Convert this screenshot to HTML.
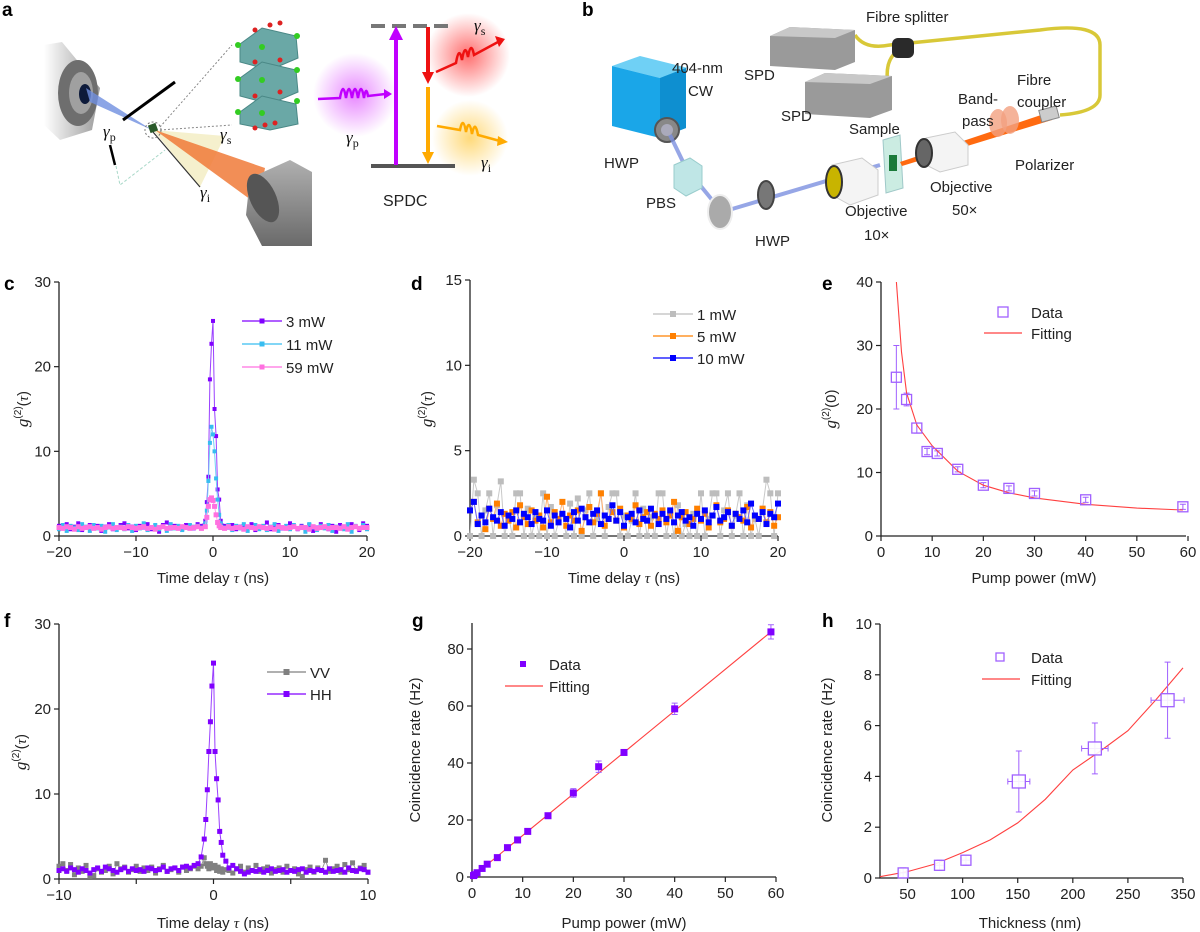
<!DOCTYPE html>
<html><head><meta charset="utf-8"><style>
html,body{margin:0;padding:0;background:#fff;}
svg{display:block;font-family:"Liberation Sans",sans-serif;}
.tk{font-size:15px;fill:#222;}
.tt{font-size:15px;fill:#222;}
.pl{font-size:19px;font-weight:bold;fill:#000;}
.lb{font-size:15px;fill:#222;}
</style></head><body>
<svg id="fig" width="1200" height="932" viewBox="0 0 1200 932" xmlns="http://www.w3.org/2000/svg">
<defs>
<radialGradient id="gP"><stop offset="0" stop-color="#e060ff" stop-opacity="0.75"/><stop offset="1" stop-color="#e060ff" stop-opacity="0"/></radialGradient>
<radialGradient id="gR"><stop offset="0" stop-color="#ff3030" stop-opacity="0.7"/><stop offset="1" stop-color="#ff3030" stop-opacity="0"/></radialGradient>
<radialGradient id="gO"><stop offset="0" stop-color="#ffc020" stop-opacity="0.6"/><stop offset="1" stop-color="#ffc020" stop-opacity="0"/></radialGradient>
<linearGradient id="gGray" x1="0" y1="0" x2="0" y2="1"><stop offset="0" stop-color="#b0b0b0"/><stop offset="1" stop-color="#6a6a6a"/></linearGradient>
<linearGradient id="gFade" x1="0" y1="0" x2="1" y2="0"><stop offset="0" stop-color="#fff"/><stop offset="1" stop-color="#9a9a9a"/></linearGradient>
</defs>

<!-- Panel a -->
<g>
<text class="pl" x="2" y="16">a</text>
<path d="M44,45 L62,42 L100,88 L92,130 L60,140 L44,125 Z" fill="url(#gFade)"/>
<ellipse cx="78" cy="93" rx="20" ry="33" fill="#6e6e6e"/>
<ellipse cx="81" cy="93" rx="12" ry="21" fill="#a0a0a0"/>
<ellipse cx="85" cy="94" rx="6" ry="10" fill="#0d1a3a"/>
<polygon points="86,88 90,102 152,130" fill="#6f8fe0" opacity="0.8"/>
<line x1="123" y1="120" x2="175" y2="82" stroke="#000" stroke-width="3"/>
<line x1="110" y1="145" x2="115" y2="165" stroke="#000" stroke-width="2.5"/>
<polyline points="116,166 120,185 165,150" fill="none" stroke="#a8d8c8" stroke-dasharray="3,2"/>
<polygon points="153,130 225,136 200,187" fill="#f3edc4" opacity="0.85"/>
<polygon points="155,130 265,168 258,205" fill="#f07a38" opacity="0.85"/>
<line x1="153" y1="132" x2="200" y2="187" stroke="#333" stroke-width="1.2"/>
<rect x="149" y="124" width="8" height="8" fill="#2a5a2a" transform="rotate(-20 153 128)"/>
<circle cx="153" cy="130" r="8" fill="none" stroke="#777" stroke-dasharray="2,2"/>
<path d="M250,178 L290,160 L312,172 L312,246 L262,246 L246,215 Z" fill="url(#gGray)"/>
<ellipse cx="263" cy="198" rx="13" ry="26" fill="#555" transform="rotate(-25 263 198)"/>
<line x1="160" y1="127" x2="232" y2="45" stroke="#888" stroke-dasharray="2,2"/>
<line x1="160" y1="130" x2="232" y2="125" stroke="#888" stroke-dasharray="2,2"/>
<g>
<polygon points="240,44 262,28 296,36 298,58 270,70 240,62" fill="#6aa8a6" stroke="#4a8886"/>
<polygon points="240,78 262,62 296,70 298,92 270,104 240,96" fill="#6aa8a6" stroke="#4a8886"/>
<polygon points="240,112 262,96 296,104 298,124 270,130 240,124" fill="#6aa8a6" stroke="#4a8886"/>
<g fill="#33cc22"><circle cx="238" cy="45" r="3"/><circle cx="262" cy="47" r="3"/><circle cx="297" cy="36" r="3"/><circle cx="238" cy="79" r="3"/><circle cx="262" cy="80" r="3"/><circle cx="297" cy="70" r="3"/><circle cx="238" cy="112" r="3"/><circle cx="262" cy="113" r="3"/><circle cx="297" cy="101" r="3"/></g>
<g fill="#dd2222"><circle cx="255" cy="30" r="2.5"/><circle cx="270" cy="25" r="2.5"/><circle cx="280" cy="23" r="2.5"/><circle cx="255" cy="62" r="2.5"/><circle cx="280" cy="60" r="2.5"/><circle cx="255" cy="96" r="2.5"/><circle cx="280" cy="92" r="2.5"/><circle cx="255" cy="128" r="2.5"/><circle cx="265" cy="125" r="2.5"/><circle cx="275" cy="123" r="2.5"/></g>
</g>
<text x="103" y="137" font-size="17" font-style="italic" fill="#111" font-family="Liberation Serif,serif">γ<tspan font-size="12" font-style="normal" dy="4">p</tspan></text>
<text x="220" y="140" font-size="17" font-style="italic" fill="#111" font-family="Liberation Serif,serif">γ<tspan font-size="12" font-style="normal" dy="4">s</tspan></text>
<text x="200" y="198" font-size="17" font-style="italic" fill="#111" font-family="Liberation Serif,serif">γ<tspan font-size="12" font-style="normal" dy="4">i</tspan></text>
<circle cx="355" cy="95" r="42" fill="url(#gP)"/>
<circle cx="468" cy="55" r="42" fill="url(#gR)"/>
<circle cx="470" cy="138" r="38" fill="url(#gO)"/>
<path d="M318,99 L340,98 Q343,80 346,98 Q349,80 352,98 Q355,80 358,98 Q361,80 364,98 Q366,85 368,96 L385,94" fill="none" stroke="#c000ff" stroke-width="2.5"/>
<polygon points="384,89 392,94 384,99" fill="#c000ff"/>
<text x="346" y="143" font-size="17" font-style="italic" fill="#111" font-family="Liberation Serif,serif">γ<tspan font-size="12" font-style="normal" dy="4">p</tspan></text>
<line x1="371" y1="26" x2="452" y2="26" stroke="#777" stroke-width="4" stroke-dasharray="14,7"/>
<line x1="371" y1="166" x2="455" y2="166" stroke="#555" stroke-width="4"/>
<line x1="396" y1="165" x2="396" y2="38" stroke="#c000ff" stroke-width="4"/>
<polygon points="389,40 396,26 403,40" fill="#c000ff"/>
<line x1="428" y1="27" x2="428" y2="72" stroke="#ee1111" stroke-width="4"/>
<polygon points="422,72 428,84 434,72" fill="#ee1111"/>
<line x1="428" y1="87" x2="428" y2="153" stroke="#ffaa00" stroke-width="4"/>
<polygon points="422,152 428,164 434,152" fill="#ffaa00"/>
<path d="M436,72 L456,63 Q459,45 462,60 Q465,42 468,57 Q471,40 474,55 L498,42" fill="none" stroke="#ee1111" stroke-width="2.5"/>
<polygon points="495,36 505,39 499,47" fill="#ee1111"/>
<path d="M437,126 L460,130 Q463,115 466,132 Q469,117 472,134 Q475,119 478,135 L500,141" fill="none" stroke="#ffaa00" stroke-width="2.5"/>
<polygon points="498,136 508,142 497,146" fill="#ffaa00"/>
<text x="474" y="31" font-size="17" font-style="italic" fill="#111" font-family="Liberation Serif,serif">γ<tspan font-size="12" font-style="normal" dy="4">s</tspan></text>
<text x="481" y="168" font-size="17" font-style="italic" fill="#111" font-family="Liberation Serif,serif">γ<tspan font-size="12" font-style="normal" dy="4">i</tspan></text>
<text x="383" y="206" font-size="16" fill="#222">SPDC</text>
</g>

<!-- Panel b -->
<g>
<text class="pl" x="582" y="16">b</text>
<polygon points="612,66 640,56 688,68 660,78" fill="#6fd0f5"/>
<rect x="612" y="66" width="48" height="0" fill="none"/>
<polygon points="612,66 660,78 686,68 686,128 660,138 612,126" fill="#1aa6e8"/>
<polygon points="660,78 686,68 686,128 660,138" fill="#0e8fd0"/>
<circle cx="667" cy="130" r="12" fill="#888" stroke="#555" stroke-width="2"/>
<circle cx="667" cy="130" r="6" fill="#aab"/>
<polyline points="670,135 686,168 722,212 880,165" fill="none" stroke="#7c90e0" stroke-width="4" opacity="0.8"/>
<polygon points="674,165 690,158 702,166 702,188 686,196 674,188" fill="#bfe6e6" stroke="#9cc"/>
<ellipse cx="720" cy="212" rx="12" ry="17" fill="#aaa" stroke="#eee" stroke-width="2"/>
<ellipse cx="766" cy="195" rx="8" ry="14" fill="#777" stroke="#444" stroke-width="2"/>
<polygon points="832,165 862,158 878,170 878,195 850,205 832,195" fill="#f4f4f4" stroke="#ccc"/>
<ellipse cx="834" cy="182" rx="8" ry="16" fill="#c8b400" stroke="#333" stroke-width="2"/>
<polygon points="883,140 900,135 903,188 886,193" fill="#bfe8dc" opacity="0.8" stroke="#8bb"/>
<rect x="889" y="155" width="8" height="16" fill="#1a7a3a"/>
<polygon points="900,162 1050,112 1052,120 902,166" fill="#ff6a10"/>
<polygon points="926,138 955,132 968,145 968,165 940,172 926,165" fill="#f4f4f4" stroke="#ccc"/>
<ellipse cx="924" cy="153" rx="8" ry="14" fill="#666" stroke="#333" stroke-width="2"/>
<ellipse cx="998" cy="123" rx="9" ry="14" fill="#f3a080" opacity="0.8"/>
<ellipse cx="1010" cy="120" rx="9" ry="14" fill="#f3a080" opacity="0.8"/>
<rect x="1040" y="108" width="18" height="12" fill="#ccc" stroke="#888" transform="rotate(-15 1049 114)"/>
<path d="M855,35 Q865,50 890,45 L1040,30 Q1100,22 1100,45 L1100,95 Q1100,112 1060,115" fill="none" stroke="#d8c838" stroke-width="3.5"/>
<path d="M890,95 Q880,55 905,48" fill="none" stroke="#d8c838" stroke-width="3.5"/>
<polygon points="770,36 790,27 855,30 855,62 835,70 770,66" fill="#9a9a9a"/>
<polygon points="770,36 790,27 855,30 835,38" fill="#c8c8c8"/>
<polygon points="805,82 825,73 892,76 892,110 870,118 805,114" fill="#9a9a9a"/>
<polygon points="805,82 825,73 892,76 870,84" fill="#c8c8c8"/>
<rect x="892" y="38" width="22" height="20" rx="6" fill="#2a2a2a"/>
<g class="lb">
<text x="866" y="22">Fibre splitter</text>
<text x="672" y="73">404-nm</text>
<text x="688" y="96">CW</text>
<text x="744" y="80">SPD</text>
<text x="781" y="121">SPD</text>
<text x="604" y="168">HWP</text>
<text x="646" y="208">PBS</text>
<text x="755" y="246">HWP</text>
<text x="849" y="134">Sample</text>
<text x="845" y="216">Objective</text>
<text x="864" y="240">10×</text>
<text x="930" y="192">Objective</text>
<text x="952" y="215">50×</text>
<text x="958" y="104">Band-</text>
<text x="962" y="126">pass</text>
<text x="1017" y="85">Fibre</text>
<text x="1017" y="107">coupler</text>
<text x="1015" y="170">Polarizer</text>
</g>
</g>

<g id="charts"></g>
</svg>

<script>
// ---------- Panel c data ----------
const cPeakT = [-1.5,-1,-0.8,-0.6,-0.4,-0.2,0,0.2,0.4,0.6,0.8,1,1.5];
const c3Peak = [1.2,1.8,4,7,18.5,22.7,25.4,15,11.8,5.5,4.3,1.8,1.2];
const c11Peak = [1,1.5,3,6.5,11,12.9,12,10,6.8,4.3,2.5,1.5,1];
const c59Peak = [0.9,1.1,2.2,3.5,4.3,4.5,4.2,3.5,2.5,1.6,1.2,1,0.9];
const c3Left = [1.2,0.9,1.4,0.8,1.1,1.5,0.7,1.0,1.3,0.9,1.2,0.6,1.1,1.4,0.8,1.0,1.3,1.5,0.9,1.1,0.7,1.2,1.0,1.4,0.8,1.1,0.5,1.3,1.6,0.9,1.2,1.0,0.8,1.3,1.1,0.9,1.4];
const c3Right = [1.0,1.3,0.8,1.1,1.2,0.9,1.4,0.7,1.1,1.0,1.6,0.8,1.2,1.3,0.9,1.0,1.5,1.1,0.8,1.2,0.9,1.3,0.6,1.0,1.4,1.1,0.8,1.2,0.5,1.3,1.0,0.9,1.4,1.1,0.7,1.5,1.2];
const c11Left = [0.8,1.3,0.6,1.2,1.0,0.7,1.4,1.1,0.6,1.3,0.9,1.2,0.5,1.0,1.4,0.7,1.1,0.8,1.3,0.6,1.2,0.9,1.5,0.7,1.0,1.3,0.8,1.1,0.6,1.4,0.9,1.2,0.7,1.0,1.3,1.1,1.2];
const c11Right = [1.3,0.7,1.2,0.9,1.4,0.6,1.0,1.3,0.8,1.2,0.7,1.1,1.4,0.6,1.0,1.2,0.8,1.3,0.9,1.1,0.5,1.4,1.0,0.7,1.2,0.9,1.3,0.6,1.1,1.0,0.8,1.4,0.5,1.2,0.9,1.3,0.8];
const c59Left = [1.0,0.9,1.1,1.0,0.8,1.1,0.9,1.0,1.1,0.9,1.0,0.8,1.0,1.1,0.9,1.0,1.0,0.9,1.1,1.0,0.9,1.0,1.1,0.9,1.0,0.8,1.0,1.1,0.9,1.0,1.0,0.9,1.1,1.0,0.9,1.0,1.1];
const c59Right = [1.1,0.9,1.0,1.0,0.8,1.1,1.0,0.9,1.1,1.0,0.9,1.0,0.8,1.1,1.0,0.9,1.0,1.1,0.9,1.0,1.0,0.8,1.1,0.9,1.0,1.1,0.9,1.0,1.0,0.9,1.1,0.8,1.0,1.1,0.9,1.0,1.0];
const cXTicks = [-20,-10,0,10,20];
const cYTicks = [0,10,20,30];
const cLegend = ['3 mW','11 mW','59 mW'];

// ---------- Panel d data ----------
const d1 = [0,3.3,2.5,0,1.5,2.5,0,1.8,3.2,0,1.2,0,2.5,2.5,0,1.6,0,1.1,0,2.5,0,1.7,0,0.8,1.3,0,1.9,0,2.2,0,1.5,2.5,0,1.0,2.5,0,1.7,2.5,2.5,0,1.2,0,0.9,2.5,0,1.6,0,1.1,0,2.5,2.5,0,1.4,0,1.8,0,0.7,0,1.3,0,2.5,0,1.0,2.5,2.5,0,1.5,2.5,0,1.2,2.5,0,1.8,0,1.0,0,1.6,3.3,2.5,0,2.5];
const d5 = [1.5,2.0,0.8,1.2,0.4,1.6,1.0,1.9,0.6,1.3,0.9,1.4,0.5,1.8,1.1,0.7,1.5,0.9,1.2,0.5,2.3,0.8,1.4,1.0,2.0,0.6,1.2,0.9,1.5,0.3,1.1,1.7,0.8,1.3,2.5,0.6,1.0,1.4,0.9,1.6,0.5,1.2,1.0,1.8,0.7,1.1,1.4,0.6,1.3,1.0,1.5,0.8,1.2,2.0,0.3,1.1,1.4,0.7,1.0,1.6,0.9,1.3,0.5,1.2,1.8,0.8,1.0,1.5,0.6,1.3,1.1,0.9,1.7,0.5,1.2,1.0,1.6,0.8,1.4,0.6,1.1];
const d10 = [1.5,2.0,0.7,1.2,0.8,1.6,1.1,0.9,1.4,0.6,1.2,1.0,1.5,0.8,1.3,1.1,0.7,1.4,1.0,0.9,1.5,0.6,1.2,0.8,1.3,1.0,0.5,1.4,0.9,1.6,1.1,0.8,1.3,1.5,0.7,1.2,1.0,1.8,0.9,1.4,0.6,1.1,1.3,0.8,1.5,1.0,0.9,1.6,1.2,0.7,1.3,1.0,1.5,0.8,1.2,1.4,0.9,1.1,0.6,1.3,1.0,1.5,0.8,1.2,1.7,0.9,1.1,1.4,0.6,1.3,1.0,1.5,0.8,1.9,1.2,1.0,1.4,0.7,1.3,1.1,1.9];
const dYTicks = [0,5,10,15];
const dLegend = ['1 mW','5 mW','10 mW'];

// ---------- Panel e data ----------
const ePower = [3,5,7,9,11,15,20,25,30,40,59];
const eG2 = [25,21.5,17,13.3,13,10.5,8,7.5,6.7,5.7,4.6];
const eErr = [5,1,0.8,0.5,0.4,0.4,0.4,0.4,0.4,0.4,0.4];
const eFitX = [3,4,5,7,10,15,20,25,30,40,50,59];
const eFitY = [40,29,22.5,17.5,14.2,10.2,8,6.8,6,5,4.4,4.1];
const eXTicks = [0,10,20,30,40,50,60];
const eYTicks = [0,10,20,30,40];

// ---------- Panel f data ----------
const fPeakT = [-1,-0.8,-0.6,-0.5,-0.4,-0.3,-0.2,-0.1,0,0.1,0.2,0.3,0.4,0.5,0.6,0.8,1];
const fHHPeak = [1.8,2.6,4.7,7,10.5,15,18.5,22.7,25.4,15,11.8,9.3,5.6,4.3,2.8,2.1,1.3];
const fVVPeak = [1.2,1.5,2.5,1.8,1.5,1.2,1.8,1.3,1.5,1.6,1.0,1.4,0.9,1.2,0.8,1.1,1.0];
const fHHLeft = [1.0,1.2,0.9,1.3,1.1,0.8,1.2,1.0,0.7,1.1,1.3,0.9,1.4,1.2,1.0,0.8,1.1,1.3,0.9,1.2,1.0,1.1,0.9,1.3,1.2,1.0,1.1,1.4,0.9,1.2,1.3,1.0,1.4,1.5,1.3,1.6];
const fHHRight = [1.6,1.2,0.9,0.6,0.8,1.0,0.9,1.1,0.8,1.0,1.2,0.9,1.0,1.1,0.8,1.0,0.9,1.1,1.2,0.8,1.0,0.9,1.1,1.0,0.8,1.2,0.9,1.0,1.1,0.8,1.3,1.0,0.9,1.2,1.1,0.8];
const fVVLeft = [1.5,1.8,1.0,1.7,0.5,1.3,0.9,1.6,0.3,0.4,1.2,0.8,1.0,1.5,0.6,1.8,1.2,1.4,0.8,1.1,1.5,0.9,1.3,1.0,1.4,0.7,1.2,1.6,0.9,1.1,1.3,0.8,1.4,1.0,1.2,1.5];
const fVVRight = [0.7,1.2,1.5,0.8,1.3,1.0,1.6,0.9,1.2,1.4,0.7,1.1,1.3,0.8,1.5,1.0,1.2,0.6,0.3,1.1,1.4,0.8,1.3,1.0,2.2,0.9,1.2,1.5,0.8,1.7,1.1,1.9,1.0,1.3,1.6,0.8];
const fXTicks = [-10,-5,0,5,10];
const fXLabels = ['−10','','0','','10'];
const fYTicks = [0,10,20,30];
const fLegend = ['VV','HH'];

// ---------- Panel g data ----------
const gPower = [0.3,0.5,1,2,3,5,7,9,11,15,20,25,30,40,59];
const gRate = [0.5,0.8,1.5,3,4.5,6.8,10.3,13,16,21.5,29.5,38.7,43.7,59,86];
const gErr = [0.3,0.3,0.3,0.4,0.4,0.4,0.5,0.5,0.5,0.6,1.5,2,1,2,2.5];
const gFitX = [0,59];
const gFitY = [0,86];
const gXTicks = [0,10,20,30,40,50,60];
const gYTicks = [0,20,40,60,80];

// ---------- Panel h data ----------
const hThick = [46,79,103,151,220,286];
const hRate = [0.2,0.5,0.7,3.8,5.1,7.0];
const hYErr = [0.2,0.2,0.2,1.2,1.0,1.5];
const hXErr = [3,4,4,10,12,15];
const hFitX = [25,50,75,100,125,150,175,200,225,250,275,300];
const hFitY = [0.05,0.25,0.55,1.0,1.5,2.17,3.1,4.25,5.0,5.8,7.0,8.27];
const hXTicks = [50,100,150,200,250,300];
const hXLabels = ['50','100','150','200','250','350'];
const hYTicks = [0,2,4,6,8,10];

const NS = 'http://www.w3.org/2000/svg';
const root = document.getElementById('charts');
function mk(tag, attrs, parent) {
  const e = document.createElementNS(NS, tag);
  for (const k in attrs) e.setAttribute(k, attrs[k]);
  (parent || root).appendChild(e);
  return e;
}
function lin(d0, d1, r0, r1) { return v => r0 + (v - d0) * (r1 - r0) / (d1 - d0); }
function fmt(v) { return v < 0 ? '−' + Math.abs(v) : String(v); }
function grid(n, a, b) { const o = []; for (let i = 0; i < n; i++) o.push(a + (b - a) * i / (n - 1)); return o; }

function axes(g, sx, sy, x0, x1, y0, y1, xt, xl, yt, ylab) {
  const ax = mk('path', {d: `M${x0},${y1} L${x0},${y0} L${x1},${y0}`, fill: 'none', stroke: '#222', 'stroke-width': 1.3}, g);
  
  
  xt.forEach((v, i) => {
    const x = sx(v);
    const t = mk('line', {x1: x, x2: x, y1: y0, y2: y0 + 5, stroke: '#222', 'stroke-width': 1.2}, g);
    
    
    const lbl = xl ? xl[i] : fmt(v);
    if (lbl !== '') {
      const tx = mk('text', {x: x, y: y0 + 21, 'text-anchor': 'middle', class: 'tk'}, g);
      tx.textContent = lbl;
      
      
    }
  });
  yt.forEach(v => {
    const y = sy(v);
    const t = mk('line', {x1: x0 - 5, x2: x0, y1: y, y2: y, stroke: '#222', 'stroke-width': 1.2}, g);
    
    
    const tx = mk('text', {x: x0 - 8, y: y + 5, 'text-anchor': 'end', class: 'tk'}, g);
    tx.textContent = fmt(v);
    
    
  });
}
function xTitle(g, x, y, html) {
  const t = mk('text', {x: x, y: y, 'text-anchor': 'middle', class: 'tt'}, g);
  t.innerHTML = html;
  
  
}
function yTitle(g, x, y, html) {
  const t = mk('text', {x: x, y: y, 'text-anchor': 'middle', class: 'tt', transform: `rotate(-90 ${x} ${y})`}, g);
  t.innerHTML = html;
  
  
}
function panelLabel(x, y, s) {
  const t = mk('text', {x: x, y: y, class: 'pl'});
  t.textContent = s;
  
  
}
function series(g, sx, sy, ts, vs, color, lineColor, ms, name) {
  const pts = ts.map((t, i) => sx(t).toFixed(1) + ',' + sy(vs[i]).toFixed(1)).join(' ');
  const pl = mk('polyline', {points: pts, fill: 'none', stroke: lineColor, 'stroke-width': 1}, g);
  
  
  ts.forEach((t, i) => {
    const r = mk('rect', {x: sx(t) - ms / 2, y: sy(vs[i]) - ms / 2, width: ms, height: ms, fill: color}, g);
    
    
  });
}
function legendLine(g, x0, x1, y, color, ms, label, tx) {
  const l = mk('line', {x1: x0, x2: x1, y1: y, y2: y, stroke: color, 'stroke-width': 1.2}, g);
  
  
  if (ms) {
    const r = mk('rect', {x: (x0 + x1) / 2 - ms / 2, y: y - ms / 2, width: ms, height: ms, fill: color}, g);
    
    
  }
  const t = mk('text', {x: tx, y: y + 6, class: 'lb', 'font-size': 16}, g);
  t.textContent = label;
  
  
}
function joinT(left, peakT, right, a, b) {
  return grid(left.length, a, -2).concat(peakT, grid(right.length, 2, b));
}
function fitLine(g, sx, sy, xs, ys, name) {
  const pts = xs.map((x, i) => sx(x).toFixed(1) + ',' + sy(ys[i]).toFixed(1)).join(' ');
  const p = mk('polyline', {points: pts, fill: 'none', stroke: '#ff4040', 'stroke-width': 1.1}, g);
  
  
}
function errBars(g, sx, sy, xs, ys, yerr, xerr, color) {
  xs.forEach((x, i) => {
    const px = sx(x), pt = sy(ys[i] + yerr[i]), pb = sy(ys[i] - yerr[i]);
    const e = mk('path', {d: `M${px},${pt} L${px},${pb} M${px - 3},${pt} L${px + 3},${pt} M${px - 3},${pb} L${px + 3},${pb}`, stroke: color, 'stroke-width': 1, fill: 'none'}, g);
    
    
    if (xerr) {
      const l = sx(x - xerr[i]), r = sx(x + xerr[i]), py = sy(ys[i]);
      const h = mk('path', {d: `M${l},${py} L${r},${py} M${l},${py - 3} L${l},${py + 3} M${r},${py - 3} L${r},${py + 3}`, stroke: color, 'stroke-width': 1, fill: 'none'}, g);
      
      
    }
  });
}
const G2 = '<tspan font-style="italic" font-family="Liberation Serif,serif" font-size="17">g</tspan><tspan font-size="10" dy="-7">(2)</tspan><tspan dy="7">(</tspan><tspan font-style="italic" font-family="Liberation Serif,serif">τ</tspan>)';
const TD = 'Time delay <tspan font-style="italic" font-family="Liberation Serif,serif">τ</tspan> (ns)';

// Panel c
(function () {
  const g = mk('g', {});
  
  
  panelLabel(4, 290, 'c');
  const sx = lin(-20, 20, 59, 367), sy = lin(0, 30, 536, 282);
  axes(g, sx, sy, 59, 367, 536, 282, cXTicks, null, cYTicks);
  const t3 = joinT(c3Left, cPeakT, c3Right, -20, 20);
  const t11 = joinT(c11Left, cPeakT, c11Right, -20, 20);
  const t59 = joinT(c59Left, cPeakT, c59Right, -20, 20);
  series(g, sx, sy, t3, c3Left.concat(c3Peak, c3Right), '#8000ff', '#9a40ff', 4, 'series-3mw');
  series(g, sx, sy, t11, c11Left.concat(c11Peak, c11Right), '#38bdf0', '#70d0f5', 4, 'series-11mw');
  series(g, sx, sy, t59, c59Left.concat(c59Peak, c59Right), '#ff70e0', '#ffa0ec', 5, 'series-59mw');
  legendLine(g, 242, 282, 321, '#8000ff', 5, cLegend[0], 286);
  legendLine(g, 242, 282, 344, '#38bdf0', 5, cLegend[1], 286);
  legendLine(g, 242, 282, 367, '#ff70e0', 5, cLegend[2], 286);
  xTitle(g, 213, 583, TD);
  yTitle(g, 28, 409, G2);
})();

// Panel d
(function () {
  const g = mk('g', {});
  
  
  panelLabel(411, 290, 'd');
  const sx = lin(-20, 20, 470, 778), sy = lin(0, 15, 536, 280);
  axes(g, sx, sy, 470, 778, 536, 280, cXTicks, null, dYTicks);
  series(g, sx, sy, grid(d1.length, -20, 20), d1, '#bdbdbd', '#c8c8c8', 6, 'series-1mw');
  series(g, sx, sy, grid(d5.length, -20, 20), d5, '#ff8000', '#ffb070', 6, 'series-5mw');
  series(g, sx, sy, grid(d10.length, -20, 20), d10, '#0000ff', '#6666ff', 6, 'series-10mw');
  legendLine(g, 653, 693, 314, '#bdbdbd', 6, dLegend[0], 697);
  legendLine(g, 653, 693, 336, '#ff8000', 6, dLegend[1], 697);
  legendLine(g, 653, 693, 358, '#0000ff', 6, dLegend[2], 697);
  xTitle(g, 624, 583, TD);
  yTitle(g, 432, 409, G2);
})();

// Panel e
(function () {
  const g = mk('g', {});
  
  
  panelLabel(822, 290, 'e');
  const sx = lin(0, 60, 881, 1188), sy = lin(0, 40, 536, 282);
  axes(g, sx, sy, 881, 1186, 536, 282, eXTicks, null, eYTicks);
  errBars(g, sx, sy, ePower, eG2, eErr, null, '#a060ff');
  fitLine(g, sx, sy, eFitX, eFitY, 'fit-curve');
  ePower.forEach((p, i) => {
    const r = mk('rect', {x: sx(p) - 5, y: sy(eG2[i]) - 5, width: 10, height: 10, fill: 'none', stroke: '#a060ff', 'stroke-width': 1.3}, g);
    
    
  });
  const lm = mk('rect', {x: 998, y: 307, width: 10, height: 10, fill: 'none', stroke: '#a060ff', 'stroke-width': 1.3}, g);
  
  
  const t1 = mk('text', {x: 1031, y: 318, class: 'lb', 'font-size': 16}, g);
  t1.textContent = 'Data';
  
  
  legendLine(g, 984, 1022, 333, '#ff4040', 0, 'Fitting', 1031);
  xTitle(g, 1034, 583, 'Pump power (mW)');
  yTitle(g, 836, 409, G2.replace('<tspan font-style="italic" font-family="Liberation Serif,serif">τ</tspan>', '0'));
})();

// Panel f
(function () {
  const g = mk('g', {});
  
  
  panelLabel(4, 627, 'f');
  const sx = lin(-10, 10, 59, 368), sy = lin(0, 30, 879, 624);
  axes(g, sx, sy, 59, 368, 879, 624, fXTicks, fXLabels, fYTicks);
  const tv = grid(fVVLeft.length, -10, -1.25).concat(fPeakT, grid(fVVRight.length, 1.25, 10));
  const th = grid(fHHLeft.length, -10, -1.25).concat(fPeakT, grid(fHHRight.length, 1.25, 10));
  series(g, sx, sy, tv, fVVLeft.concat(fVVPeak, fVVRight), '#808080', '#999', 5, 'series-vv');
  series(g, sx, sy, th, fHHLeft.concat(fHHPeak, fHHRight), '#8000ff', '#9a40ff', 5, 'series-hh');
  legendLine(g, 267, 306, 672, '#808080', 6, fLegend[0], 310);
  legendLine(g, 267, 306, 694, '#8000ff', 6, fLegend[1], 310);
  xTitle(g, 213, 928, TD);
  yTitle(g, 26, 752, G2);
})();

// Panel g
(function () {
  const g = mk('g', {});
  
  
  panelLabel(412, 627, 'g');
  const sx = lin(0, 60, 472, 776), sy = lin(0, 80, 877, 649);
  axes(g, sx, sy, 472, 776, 877, 623, gXTicks, null, gYTicks);
  fitLine(g, sx, sy, gFitX, gFitY, 'fit-line');
  errBars(g, sx, sy, gPower, gRate, gErr, null, '#a060ff');
  gPower.forEach((p, i) => {
    const r = mk('rect', {x: sx(p) - 3.5, y: sy(gRate[i]) - 3.5, width: 7, height: 7, fill: '#8000ff'}, g);
    
    
  });
  const lm = mk('rect', {x: 520, y: 661, width: 6, height: 6, fill: '#8000ff'}, g);
  
  
  const t1 = mk('text', {x: 549, y: 670, class: 'lb', 'font-size': 16}, g);
  t1.textContent = 'Data';
  
  
  legendLine(g, 505, 543, 686, '#ff4040', 0, 'Fitting', 549);
  xTitle(g, 624, 928, 'Pump power (mW)');
  yTitle(g, 420, 750, 'Coincidence rate (Hz)');
})();

// Panel h
(function () {
  const g = mk('g', {});
  
  
  panelLabel(822, 627, 'h');
  const sx = lin(25, 300, 880, 1183), sy = lin(0, 10, 878, 624);
  axes(g, sx, sy, 880, 1183, 878, 624, hXTicks, hXLabels, hYTicks);
  fitLine(g, sx, sy, hFitX, hFitY, 'fit-curve');
  errBars(g, sx, sy, hThick, hRate, hYErr, hXErr, '#a060ff');
  hThick.forEach((t, i) => {
    const s = i < 3 ? 10 : 13;
    const r = mk('rect', {x: sx(t) - s / 2, y: sy(hRate[i]) - s / 2, width: s, height: s, fill: '#fff', 'fill-opacity': 0.9, stroke: '#a060ff', 'stroke-width': 1.3}, g);
    
    
  });
  const lm = mk('rect', {x: 996, y: 653, width: 8, height: 8, fill: 'none', stroke: '#a060ff', 'stroke-width': 1.3}, g);
  
  
  const t1 = mk('text', {x: 1031, y: 663, class: 'lb', 'font-size': 16}, g);
  t1.textContent = 'Data';
  
  
  legendLine(g, 982, 1020, 679, '#ff4040', 0, 'Fitting', 1031);
  xTitle(g, 1030, 928, 'Thickness (nm)');
  yTitle(g, 832, 750, 'Coincidence rate (Hz)');
})();
</script>
</body></html>
